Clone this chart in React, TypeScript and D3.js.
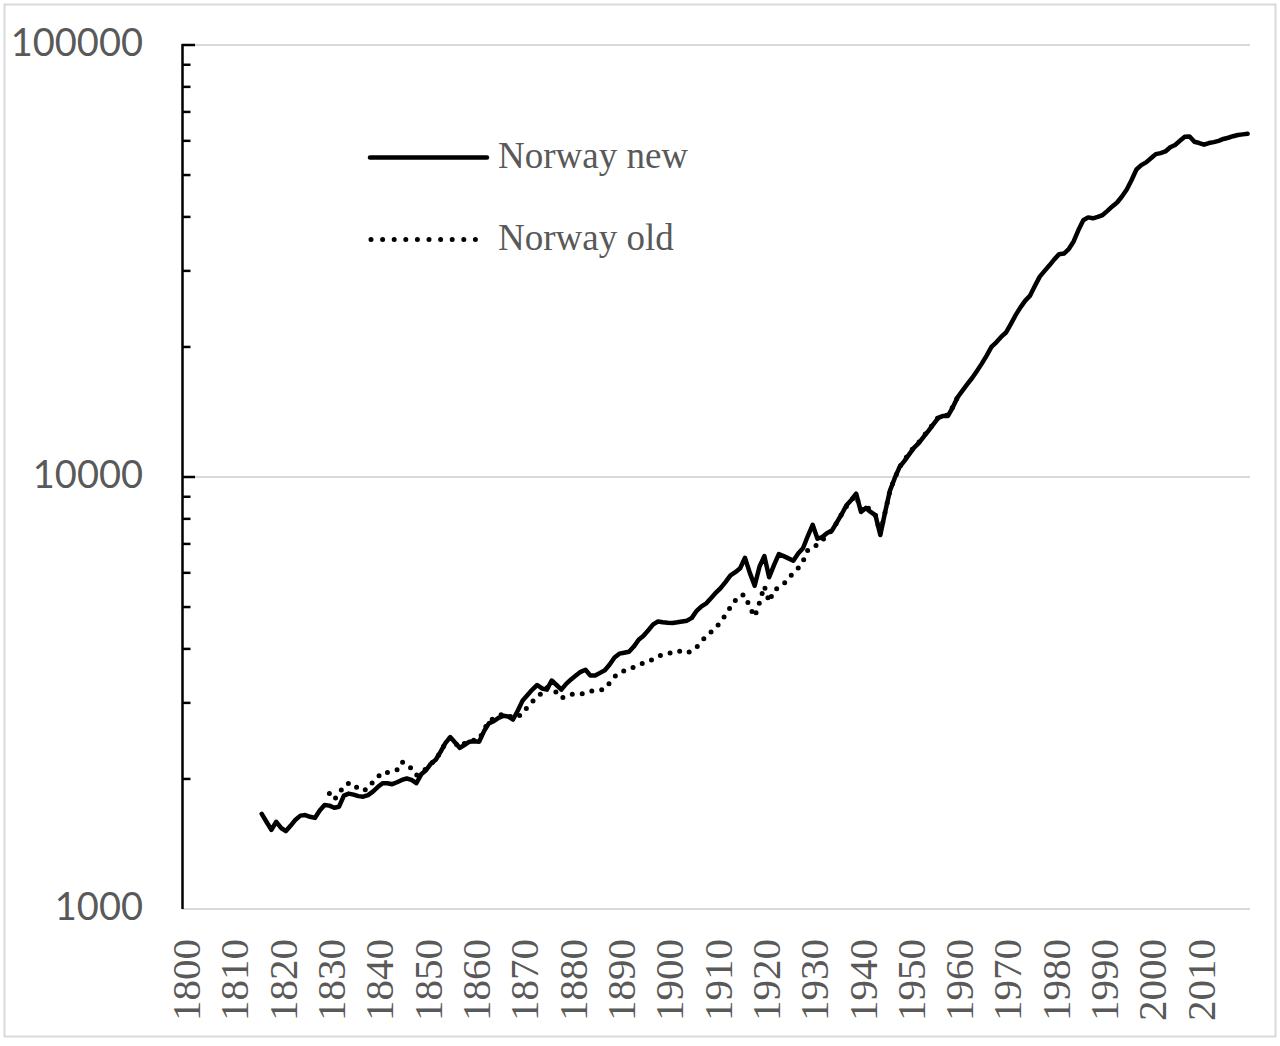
import React, { useEffect, useRef } from "react";
import * as d3 from "d3";

// Norway new: 1816-2020
const newStart = 1816;
const norwayNew = [
  1660, 1590, 1524, 1592, 1540, 1515, 1560, 1610, 1645, 1650,
  1635, 1625, 1690, 1740, 1735, 1715, 1725, 1830, 1850, 1840,
  1825, 1820, 1835, 1870, 1915, 1955, 1955, 1945, 1965, 1990,
  2005, 1990, 1955, 2050, 2095, 2170, 2215, 2310, 2420, 2500,
  2430, 2360, 2400, 2440, 2445, 2440, 2580, 2690, 2720, 2770,
  2800, 2790, 2745, 2880, 3040, 3130, 3220, 3300, 3240, 3220,
  3380, 3300, 3220, 3320, 3400, 3470, 3540, 3580, 3470, 3470,
  3520, 3570, 3680, 3820, 3900, 3920, 3940, 4050, 4200, 4290,
  4420, 4560, 4630, 4610, 4600, 4595, 4610, 4630, 4650, 4720,
  4900, 5020, 5100, 5250, 5400, 5540, 5720, 5920, 6020, 6150,
  6500, 6000, 5600, 6200, 6560, 5860, 6250, 6630, 6560, 6480,
  6400, 6650, 6840, 7300, 7750, 7200, 7260, 7420, 7520, 7850,
  8200, 8600, 8850, 9150, 8300, 8480, 8300, 8150, 7340, 8300,
  9300, 9950, 10550, 10900, 11300, 11700, 12000, 12400, 12800, 13250,
  13700, 13850, 13850, 14500, 15300, 15850, 16400, 16950, 17600, 18300,
  19100, 20000, 20500, 21100, 21600, 22600, 23700, 24700, 25600, 26300,
  27700, 29100, 30000, 30900, 31900, 32800, 32900, 33700, 35100, 37300,
  39300, 39900, 39700, 40000, 40400, 41300, 42300, 43200, 44600, 46300,
  48700, 51500, 52700, 53500, 54700, 55900, 56200, 56700, 58000, 58700,
  60000, 61300, 61400, 59700, 59300, 58800, 59300, 59600, 60000, 60600,
  61000, 61500, 61900, 62100, 62300,
];

// Norway old: 1830-1960
const oldStart = 1830;
const norwayOld = [
  1850, 1790, 1850, 1930, 1955, 1950, 1890, 1880, 1900, 1970,
  2020, 2075, 2070, 2080, 2100, 2190, 2170, 2110, 2040, 2080,
  2110, 2170, 2215, 2310, 2420, 2490, 2420, 2370, 2420, 2450,
  2460, 2470, 2600, 2720, 2760, 2800, 2830, 2810, 2770, 2790,
  2830, 2940, 3020, 3090, 3170, 3260, 3240, 3170, 3075, 3110,
  3140, 3140, 3145, 3160, 3190, 3205, 3210, 3230, 3340, 3450,
  3530, 3560, 3580, 3630, 3670, 3710, 3740, 3790, 3850, 3870,
  3893, 3930, 3960, 3940, 3910, 3960, 4040, 4160, 4290, 4380,
  4480, 4630, 4800, 5000, 5180, 5330, 5330, 4990, 4750, 5120,
  5590, 5140, 5470, 5550, 5650, 5830, 5990, 6150, 6380, 6770,
  6900, 6960, 7130, 7350, 7520, 7850, 8200, 8550, 8850, 9050,
  8400, 8600, 8350, 8150, 7400, 8300, 9300, 9950, 10550, 10950,
  11350, 11750, 12050, 12450, 12850, 13300, 13750, 13900, 13900, 14550,
  15300,
];

const yearTicks = d3.range(1800, 2011, 10);
const yMajor = [1000, 10000, 100000];
const yMinor = [2000, 3000, 4000, 5000, 6000, 7000, 8000, 9000,
  20000, 30000, 40000, 50000, 60000, 70000, 80000, 90000];

const legendItems = [
  { label: "Norway new", dotted: false },
  { label: "Norway old", dotted: true },
];

const W = 1280;
const H = 1046;
const gray = "#595959";
const gridColor = "#d9d9d9";

export default function App() {
  const svgRef = useRef<SVGSVGElement>(null);

  useEffect(() => {
    if (!svgRef.current) return;
    const svg = d3.select(svgRef.current);
    svg.selectAll("*").remove();

    const x = d3.scaleLinear().domain([1799.5, 2020.5]).range([182, 1250]);
    const y = d3.scaleLog().domain([1000, 100000]).range([909, 45]);

    // chart border
    svg.append("rect")
      .attr("x", 4.5).attr("y", 4.5)
      .attr("width", 1271).attr("height", 1032)
      .attr("fill", "#fff")
      .attr("stroke", gridColor)
      .attr("stroke-width", 2);

    // gridlines
    svg.selectAll(".grid")
      .data(yMajor)
      .enter()
      .append("line")
      .attr("x1", 182).attr("x2", 1250)
      .attr("y1", d => y(d)).attr("y2", d => y(d))
      .attr("stroke", gridColor)
      .attr("stroke-width", 2);

    // y axis line and ticks
    svg.append("line")
      .attr("x1", 182.5).attr("x2", 182.5)
      .attr("y1", y(100000) - 1).attr("y2", y(1000))
      .attr("stroke", "#000")
      .attr("stroke-width", 2.5);

    svg.selectAll(".minor")
      .data(yMinor)
      .enter()
      .append("line")
      .attr("x1", 182).attr("x2", 190.5)
      .attr("y1", d => y(d)).attr("y2", d => y(d))
      .attr("stroke", "#000")
      .attr("stroke-width", 2.5);

    svg.selectAll(".major")
      .data([10000, 100000])
      .enter()
      .append("line")
      .attr("x1", 182).attr("x2", 195)
      .attr("y1", d => y(d)).attr("y2", d => y(d))
      .attr("stroke", "#000")
      .attr("stroke-width", 2.5);

    // y labels
    svg.selectAll(".ylab")
      .data(yMajor)
      .enter()
      .append("text")
      .attr("x", 143)
      .attr("y", d => y(d) - 2)
      .attr("dy", "0.35em")
      .attr("text-anchor", "end")
      .style("font-family", "Lato, 'Open Sans', sans-serif")
      .style("font-size", "38px")
      .style("fill", gray)
      .text(d => String(d));

    // x labels (rotated)
    svg.selectAll(".xlab")
      .data(yearTicks)
      .enter()
      .append("text")
      .attr("transform", d => `translate(${x(d) + 2},1021) rotate(-90)`)
      .attr("dy", "0.33em")
      .attr("text-anchor", "start")
      .style("font-family", "'Liberation Serif', serif")
      .style("font-size", "41px")
      .style("fill", gray)
      .text(d => String(d));

    const newPts = norwayNew.map((v, i) => [newStart + i, v] as [number, number]);
    const oldPts = norwayOld.map((v, i) => [oldStart + i, v] as [number, number]);
    const path = d3.line<[number, number]>()
      .x(d => x(d[0]))
      .y(d => y(d[1]));

    svg.append("path")
      .datum(newPts)
      .attr("d", path)
      .attr("fill", "none")
      .attr("stroke", "#000")
      .attr("stroke-width", 4.5)
      .attr("stroke-linejoin", "round")
      .attr("stroke-linecap", "round");

    svg.append("path")
      .datum(oldPts)
      .attr("d", path)
      .attr("fill", "none")
      .attr("stroke", "#000")
      .attr("stroke-width", 5)
      .attr("stroke-dasharray", "0 10")
      .attr("stroke-linecap", "round");

    // legend
    const lg = svg.append("g");
    legendItems.forEach((item, i) => {
      const ly = 157.5 + i * 82;
      lg.append("line")
        .attr("x1", item.dotted ? 371 : 370)
        .attr("x2", item.dotted ? 476 : 487)
        .attr("y1", ly).attr("y2", ly)
        .attr("stroke", "#000")
        .attr("stroke-width", item.dotted ? 5 : 4.5)
        .attr("stroke-linecap", "round")
        .attr("stroke-dasharray", item.dotted ? "0 11.6" : null);
      lg.append("text")
        .attr("x", 498)
        .attr("y", ly + 10.5)
        .style("font-family", "'Liberation Serif', serif")
        .style("font-size", "37px")
        .style("fill", gray)
        .text(item.label);
    });
  }, []);

  return (
    <svg
      ref={svgRef}
      width={W}
      height={H}
      style={{ position: "absolute", left: 0, top: 0, background: "#fff" }}
    />
  );
}
